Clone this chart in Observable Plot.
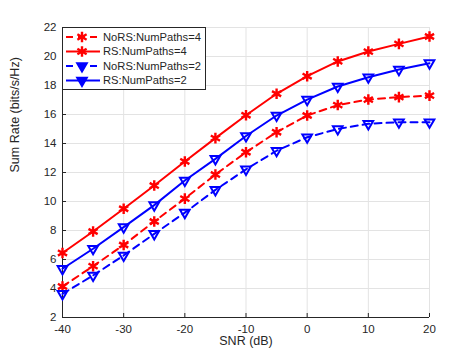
<!DOCTYPE html>
<html>
<head>
<meta charset="utf-8">
<script src="https://cdn.jsdelivr.net/npm/d3@7"></script>
<script src="https://cdn.jsdelivr.net/npm/@observablehq/plot@0.6"></script>
<style>
  html, body { margin: 0; padding: 0; background: #fff; }
  #wrap { position: relative; width: 474px; height: 355px; font-family: "Liberation Sans", Arial, sans-serif; }
  #legend { position: absolute; left: 62px; top: 27px; }
</style>
</head>
<body>
<div id="wrap"></div>
<script>
const snr = [-40, -35, -30, -25, -20, -15, -10, -5, 0, 5, 10, 15, 20];
const noRS4 = [4.14, 5.54, 7.0, 8.62, 10.2, 11.86, 13.4, 14.78, 15.93, 16.65, 17.03, 17.2, 17.3];
const rs4   = [6.45, 7.93, 9.5, 11.1, 12.76, 14.37, 15.95, 17.43, 18.64, 19.66, 20.34, 20.87, 21.38];
const noRS2 = [3.63, 4.9, 6.28, 7.77, 9.23, 10.8, 12.22, 13.5, 14.43, 15.0, 15.36, 15.47, 15.47];
const rs2   = [5.36, 6.74, 8.23, 9.75, 11.45, 12.94, 14.52, 15.93, 17.03, 17.93, 18.57, 19.1, 19.54];
const seriesNames = ["NoRS:NumPaths=4", "RS:NumPaths=4", "NoRS:NumPaths=2", "RS:NumPaths=2"];
const seriesValues = [noRS4, rs4, noRS2, rs2];
const seriesColors = ["#ff0000", "#ff0000", "#0000ff", "#0000ff"];
const seriesDashed = [true, false, true, false];
const seriesSymbol = ["asterisk", "asterisk", "triangle", "triangle"];
const xTicks = [-40, -30, -20, -10, 0, 10, 20];
const yTicks = [2, 4, 6, 8, 10, 12, 14, 16, 18, 20, 22];
const xLabel = "SNR (dB)";
const yLabel = "Sum Rate (bits/s/Hz)";

const marks = [
  Plot.gridX(xTicks, {stroke: "#e3e3e3", strokeOpacity: 1}),
  Plot.gridY(yTicks, {stroke: "#e3e3e3", strokeOpacity: 1}),
  Plot.ruleX([-40], {stroke: "#262626", strokeWidth: 1}),
  Plot.ruleY([2], {stroke: "#262626", strokeWidth: 1}),
  Plot.axisX(xTicks, {label: null, tickSize: -4, tickPadding: 11, stroke: "#262626", fill: "#262626", fontSize: 11.5, tickFormat: d => String(d)}),
  Plot.axisY(yTicks, {label: null, tickSize: -4, tickPadding: 10, stroke: "#262626", fill: "#262626", fontSize: 11.5, tickFormat: d => String(d)}),
  Plot.text([xLabel], {frameAnchor: "bottom", dy: 27, fill: "#262626", fontSize: 12.5}),
  Plot.text([yLabel], {frameAnchor: "left", dx: -48, rotate: -90, fill: "#262626", fontSize: 12.5})
];

seriesValues.forEach((vals, i) => {
  const data = snr.map((x, j) => ({x, y: vals[j]}));
  marks.push(Plot.line(data, {
    x: "x", y: "y", stroke: seriesColors[i], strokeWidth: 2,
    strokeDasharray: seriesDashed[i] ? "7,5" : null
  }));
  if (seriesSymbol[i] === "asterisk") {
    marks.push(Plot.dot(data, {x: "x", y: "y", symbol: "asterisk", r: 5, stroke: seriesColors[i], strokeWidth: 2.4}));
  } else {
    marks.push(Plot.dot(data, {x: "x", y: "y", symbol: "triangle", r: 3.6, rotate: 180, stroke: seriesColors[i], fill: "none", strokeWidth: 2}));
  }
});

const chart = Plot.plot({
  width: 474,
  height: 355,
  marginLeft: 62,
  marginRight: 45,
  marginTop: 27,
  marginBottom: 38,
  style: {fontFamily: "Liberation Sans, Arial, sans-serif", background: "#fff", color: "#262626"},
  x: {domain: [-40, 20], label: null},
  y: {domain: [2, 22], label: null},
  marks
});
document.getElementById("wrap").appendChild(chart);

// Legend (inside the plot area, top-left)
const lw = 143, lh = 62;
const leg = d3.create("svg").attr("id", "legend").attr("width", lw + 1).attr("height", lh + 1);
leg.append("rect").attr("x", 0.5).attr("y", 0.5).attr("width", lw).attr("height", lh)
  .attr("fill", "#fff").attr("stroke", "#262626").attr("stroke-width", 1);
seriesNames.forEach((name, i) => {
  const cy = 10 + i * 14.5;
  leg.append("line").attr("x1", 4).attr("x2", 38).attr("y1", cy).attr("y2", cy)
    .attr("stroke", seriesColors[i]).attr("stroke-width", 2)
    .attr("stroke-dasharray", seriesDashed[i] ? "7,5" : null);
  const sym = seriesSymbol[i] === "asterisk" ? d3.symbolAsterisk : d3.symbolTriangle;
  const size = seriesSymbol[i] === "asterisk" ? 80 : 40;
  leg.append("path").attr("d", d3.symbol(sym, size)())
    .attr("transform", `translate(20,${cy})` + (seriesSymbol[i] === "triangle" ? " rotate(180)" : ""))
    .attr("fill", seriesSymbol[i] === "triangle" ? seriesColors[i] : "none")
    .attr("stroke", seriesColors[i]).attr("stroke-width", seriesSymbol[i] === "asterisk" ? 2.4 : 2);
  leg.append("text").attr("x", 41).attr("y", cy).attr("dy", "0.35em")
    .attr("font-size", 11.2).attr("fill", "#262626")
    .attr("font-family", "Liberation Sans, Arial, sans-serif").text(name);
});
document.getElementById("wrap").appendChild(leg.node());
</script>
</body>
</html>
